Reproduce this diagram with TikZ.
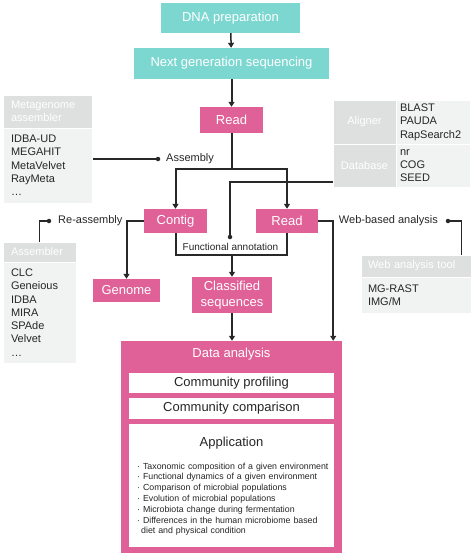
\documentclass[tikz,border=0pt]{standalone}
\usepackage{fontspec}
\setmainfont{Liberation Sans}
\usepackage{xcolor}
\usepackage{tikz}
\usetikzlibrary{arrows.meta, positioning}

\definecolor{seqcyan}{RGB}{124,215,209}
\definecolor{stepink}{RGB}{224,96,152}
\definecolor{toolhead}{RGB}{221,224,223}
\definecolor{toolbody}{RGB}{241,242,242}
\definecolor{linegray}{RGB}{40,40,40}

\begin{document}
\begin{tikzpicture}[x=1pt, y=-1pt,
    prep/.style={rectangle, fill=seqcyan, text=white, inner sep=0pt, font=\fontsize{13}{15}\selectfont},
    stage/.style={rectangle, fill=stepink, text=white, inner sep=0pt, align=center, font=\fontsize{13}{16}\selectfont},
    panel/.style={rectangle, fill=white, text=black!85, inner sep=0pt, font=\fontsize{13}{15}\selectfont},
    thead/.style={rectangle, fill=toolhead, draw=white, line width=1pt, text=white, inner sep=0pt, font=\fontsize{11}{12.5}\selectfont},
    tbody/.style={rectangle, fill=toolbody, draw=white, line width=1pt, text=black!85, inner sep=0pt, align=left, font=\fontsize{11}{13.3}\selectfont},
    flow/.style={draw=linegray, line width=2pt, -{Triangle[length=5pt, width=6pt]}},
    wire/.style={draw=linegray, line width=2pt},
    hint/.style={draw=linegray, line width=1.25pt},
    tag/.style={text=black!85, inner sep=0pt, font=\fontsize{11}{13}\selectfont},
    dotmark/.style={circle, fill=linegray, inner sep=0pt, minimum size=4.5pt}
]
\useasboundingbox (0,0) rectangle (474,557);

% Sequencing
\node[prep, minimum width=139pt, minimum height=30pt] (dna) at (230.5,18) {DNA preparation};
\node[prep, minimum width=195pt, minimum height=31pt] (ngs) at (231.5,63.5) {Next generation sequencing};

% Reads, contigs and products
\node[stage, minimum width=63pt, minimum height=26pt] (read) at (231.5,120) {Read};
\node[stage, minimum width=63pt, minimum height=24pt] (contig) at (175.5,221) {Contig};
\node[stage, minimum width=62pt, minimum height=24pt] (readb) at (287,221) {Read};
\node[stage, minimum width=67pt, minimum height=23pt] (genome) at (126.5,290.5) {Genome};
\node[stage, minimum width=80pt, minimum height=36pt] (classified) at (232,295) {Classified\\sequences};

% Data analysis
\node[stage, minimum width=221pt, minimum height=212pt] (analysis) at (231.5,447) {};
\node[text=white, font=\fontsize{13}{15}\selectfont] (analysistitle) at (231.5,354) {Data analysis};
\node[panel, minimum width=205pt, minimum height=20pt] (profiling) at (231.5,383) {Community profiling};
\node[panel, minimum width=205pt, minimum height=21pt] (comparison) at (231.5,408.5) {Community comparison};
\node[panel, minimum width=205pt, minimum height=123pt] (application) at (231.5,485.5) {};
\node[text=black!85, font=\fontsize{13}{15}\selectfont] (apptitle) at (231.5,443) {Application};
\node[anchor=north west, inner sep=0pt, text width=194pt, align=left, text=black!85,
      font=\fontsize{8.8}{10.8}\selectfont] (uses) at (137,462.5) {%
  · Taxonomic composition of a given environment\\
  · Functional dynamics of a given environment\\
  · Comparison of microbial populations\\
  · Evolution of microbial populations\\
  · Microbiota change during fermentation\\
  \makebox[191pt][s]{· Differences in the human microbiome based}\\
  \hspace*{4pt}diet and physical condition};

% Metagenome assembler
\node[thead, inner xsep=8pt, text width=73pt, align=left, minimum height=33pt] (mahead) at (47.5,111.5) {Metagenome\\assembler};
\node[tbody, inner xsep=8pt, text width=73pt, minimum height=75pt] (mabody) at (47.5,165.5) {IDBA-UD\\MEGAHIT\\MetaVelvet\\RayMeta\\\dots};

% Aligner and database
\node[thead, minimum width=63pt, minimum height=44pt] (alignhead) at (364.5,122) {Aligner};
\node[tbody, inner xsep=4pt, text width=66pt, minimum height=44pt] (alignbody) at (433,122) {BLAST\\PAUDA\\RapSearch2};
\node[thead, minimum width=63pt, minimum height=43pt] (dbhead) at (364.5,165.5) {Database};
\node[tbody, inner xsep=4pt, text width=66pt, minimum height=43pt] (dbbody) at (433,165.5) {nr\\COG\\SEED};

% Assembler
\node[thead, inner xsep=8pt, text width=57pt, align=left, minimum height=20pt] (asmhead) at (39.5,252) {Assembler};
\node[tbody, inner xsep=8pt, text width=57pt, minimum height=101pt] (asmbody) at (39.5,312.5) {CLC\\Geneious\\IDBA\\MIRA\\SPAde\\Velvet\\\dots};

% Web analysis tool
\node[thead, inner xsep=7pt, text width=96pt, align=left, minimum height=22pt] (webhead) at (416,266) {Web analysis tool};
\node[tbody, inner xsep=7pt, text width=96pt, minimum height=36pt] (webbody) at (416,295) {MG-RAST\\IMG/M};

% Main flow
\draw[flow, line width=1.5pt] (dna) -- (ngs);
\draw[flow] (ngs) -- (read);
\coordinate (split) at (231.5,169);
\draw[wire] (read) -- (split);
\draw[flow] (split) -| (contig);
\draw[flow] (split) -| (readb);
\draw[flow] (contig) -| (genome);
\coordinate (merge) at (232,255);
\draw[wire] (contig) |- (merge) -| (readb);
\draw[flow] (merge) -- (classified);
\draw[flow] (classified.south) -- (classified.south |- analysis.north);
\draw[flow] (readb) -| ([xshift=-9pt]analysis.north east);

% Tool links
\node[dotmark] (asmdot) at (158,159) {};
\node[tag, anchor=west] (asmtag) at (166,159) {Assembly};
\draw[hint] (mabody.east |- asmdot) -- (asmdot);

\node[dotmark] (fadot) at (230,237) {};
\node[tag, font=\fontsize{10}{12}\selectfont] (fatag) at (230.5,247) {Functional annotation};
\draw[hint] ([yshift=-16.5pt]dbhead.west) -| (fadot);

\node[dotmark] (reasmdot) at (49,221) {};
\node[tag, anchor=west] (reasmtag) at (58,221) {Re-assembly};
\draw[hint] (reasmdot) -| (asmhead.north);

\node[dotmark] (webdot) at (448,221) {};
\node[tag, anchor=east] (webtag) at (438,221) {Web-based analysis};
\draw[hint] (webdot) -| ([xshift=-10pt]webhead.north east);

\end{tikzpicture}
\end{document}
